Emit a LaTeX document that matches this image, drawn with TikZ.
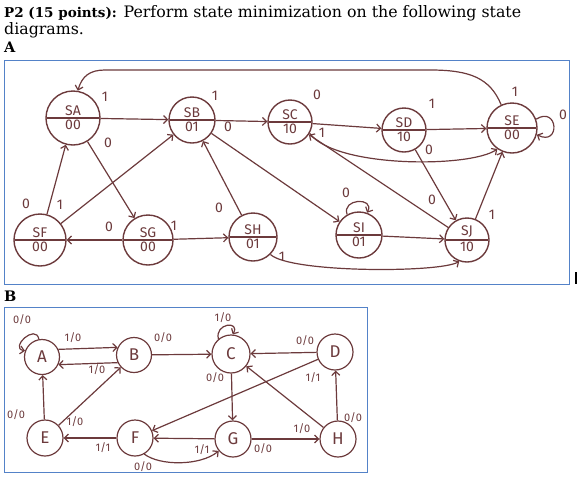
\documentclass[tikz,border=0pt]{standalone}
\usepackage{fontspec}
\setmainfont{DejaVu Serif}
\newfontfamily\hand{Fira Sans}
\usetikzlibrary{shapes.multipart, arrows.meta, positioning}
\definecolor{ink}{RGB}{108,58,60}
\definecolor{frame}{RGB}{84,130,200}

\begin{document}
\begin{tikzpicture}[
  x=1pt, y=-1pt,
  heading/.style={anchor=base west, inner sep=0pt, font=\fontsize{15.8}{17}\selectfont},
  panel/.style={draw=frame, line width=0.9pt},
  splitstate/.style={
    circle split, draw=ink, line width=1.4pt, text=ink, inner sep=1.5pt,
    minimum size=46pt, font=\hand\fontsize{14}{14}\selectfont
  },
  plainstate/.style={
    circle, draw=ink, line width=1.2pt, text=ink, inner sep=0pt,
    minimum size=35pt, font=\hand\fontsize{17}{17}\selectfont
  },
  trans/.style={draw=ink, line width=1.2pt, -{Straight Barb[length=4pt,width=8pt]}},
  lbl/.style={text=ink, inner sep=1pt, font=\hand\fontsize{14}{14}\selectfont},
  slbl/.style={text=ink, inner sep=1pt, font=\hand\fontsize{11}{11}\selectfont}
]
\useasboundingbox (0,0) rectangle (578,488);

% ----------------- HEADING -----------------
\node[heading] (title1) at (4,17) {{\bfseries\fontsize{13.5}{17}\selectfont P2 (15 points):} Perform state minimization on the following state};
\node[heading] (title2) at (4,34) {diagrams.};
\node[heading] (parta) at (4,52) {\bfseries\fontsize{14.5}{17}\selectfont A};
\node[heading] (partb) at (4,301) {\bfseries\fontsize{14.5}{17}\selectfont B};

\draw[panel] (4,60) rectangle (569,284);
\draw[panel] (4,307) rectangle (367,472);
\draw[line width=1.3pt] (576,272) -- (576,284);

% ----------------- DIAGRAM A: STATES -----------------
\node[splitstate, minimum size=54pt] (sa) at (73,118) {SA \nodepart{lower} 00};
\node[splitstate] (sb) at (192,120) {SB \nodepart{lower} 01};
\node[splitstate, minimum size=44pt] (sc) at (290,122) {SC \nodepart{lower} 10};
\node[splitstate, minimum size=44pt] (sd) at (404,130) {SD \nodepart{lower} 10};
\node[splitstate, minimum size=50pt] (se) at (512,128) {SE \nodepart{lower} 00};
\node[splitstate, minimum size=52pt] (sf) at (40,240) {SF \nodepart{lower} 00};
\node[splitstate, minimum size=50pt] (sg) at (148,240) {SG \nodepart{lower} 00};
\node[splitstate, minimum size=48pt] (sh) at (253,237) {SH \nodepart{lower} 01};
\node[splitstate] (si) at (359,235) {SI \nodepart{lower} 01};
\node[splitstate, minimum size=44pt] (sj) at (467,240) {SJ \nodepart{lower} 10};

% ----------------- DIAGRAM A: TRANSITIONS -----------------
\draw[trans] (sa) -- (sb);
\draw[trans] (sa) -- (sg);
\draw[trans] (sf) -- (sa);
\draw[trans] (sf) -- (sb);
\draw[trans] (sg) -- (sf);
\draw[trans] (sg) -- (sh);
\draw[trans] (sh) -- (sb);
\draw[trans] (sb) -- (sc);
\draw[trans] (sb) -- (si);
\draw[trans] (sh.-45) .. controls (290,273) and (440,273) .. (sj.-110);
\draw[trans] (sc) -- (sd);
\draw[trans] (sc.-30) .. controls (335,168) and (470,168) .. (se.-125);
\draw[trans] (sd) -- (se);
\draw[trans] (sd) -- (sj);
\draw[trans] (sj) -- (se);
\draw[trans] (sj) -- (sc);
\draw[trans] (si) -- (sj);
\draw[trans] (se.115) .. controls (490,78) and (470,70) .. (430,70) -- (105,70) .. controls (90,70) and (82,76) .. (sa.80);
\draw[trans] (se.20) .. controls +(22,-14) and +(24,12) .. (se.-15);
\draw[trans] (si.120) .. controls +(-6,-16) and +(8,-16) .. (si.70);

% Labels
\node[lbl] (l_ab) at (105,97) {1};
\node[lbl] (l_ag) at (108,143) {0};
\node[lbl] (l_fa) at (26,204) {0};
\node[lbl] (l_fb) at (60,205) {1};
\node[lbl] (l_gf) at (109,227) {0};
\node[lbl] (l_gh) at (174,226) {1};
\node[lbl] (l_hb) at (219,208) {0};
\node[lbl] (l_bc) at (215,96) {1};
\node[lbl] (l_bi) at (228,127) {0};
\node[lbl] (l_hj) at (282,257) {1};
\node[lbl] (l_cd) at (317,95) {0};
\node[lbl] (l_ce) at (322,133) {1};
\node[lbl] (l_de) at (432,104) {1};
\node[lbl] (l_ea) at (515,92) {1};
\node[lbl] (l_ee) at (563,115) {0};
\node[lbl] (l_dj) at (429,150) {0};
\node[lbl] (l_jc) at (432,200) {0};
\node[lbl] (l_ii) at (346,193) {0};
\node[lbl] (l_je) at (492,215) {1};

% ----------------- DIAGRAM B: STATES -----------------
\node[plainstate] (a) at (42,357) {A};
\node[plainstate] (b) at (134,355) {B};
\node[plainstate, minimum size=38pt] (c) at (231,354) {C};
\node[plainstate, minimum size=36pt] (d) at (335,352) {D};
\node[plainstate, minimum size=36pt] (e) at (45,438) {E};
\node[plainstate, minimum size=36pt] (f) at (135,438) {F};
\node[plainstate, minimum size=36pt] (g) at (233,439) {G};
\node[plainstate, minimum size=36pt] (h) at (338,439) {H};

% ----------------- DIAGRAM B: TRANSITIONS -----------------
\draw[trans] (a.100) .. controls +(-3,-16) and +(-16,-3) .. (a.160);
\draw[trans] (a.25) -- (b.155);
\draw[trans] (b.-155) -- (a.-25);
\draw[trans] (b) -- (c);
\draw[trans] (c.130) .. controls +(-4,-16) and +(8,-14) .. (c.85);
\draw[trans] (c) -- (g);
\draw[trans] (d) -- (c);
\draw[trans] (d) -- (f);
\draw[trans] (h) -- (c);
\draw[trans] (g) -- (h);
\draw[trans] (h) -- (d);
\draw[trans] (g) -- (f);
\draw[trans] (f.-60) .. controls (160,466) and (200,466) .. (g.-140);
\draw[trans] (f) -- (e);
\draw[trans] (e) -- (a);
\draw[trans] (e) -- (b);

% Labels
\node[slbl] (m_aa) at (22,320) {0/0};
\node[slbl] (m_ab) at (73,338) {1/0};
\node[slbl] (m_ba) at (97,370) {1/0};
\node[slbl] (m_bc) at (163,338) {0/0};
\node[slbl] (m_cc) at (223,318) {1/0};
\node[slbl] (m_cg) at (215,378) {0/0};
\node[slbl] (m_dc) at (305,341) {0/0};
\node[slbl] (m_df) at (313,378) {1/1};
\node[slbl] (m_hc) at (302,429) {1/0};
\node[slbl] (m_gh) at (263,449) {0/0};
\node[slbl] (m_hd) at (353,418) {0/0};
\node[slbl] (m_gf) at (202,450) {1/1};
\node[slbl] (m_fg) at (143,467) {0/0};
\node[slbl] (m_fe) at (103,448) {1/1};
\node[slbl] (m_ea) at (16,415) {0/0};
\node[slbl] (m_eb) at (75,422) {1/0};

\end{tikzpicture}
\end{document}
